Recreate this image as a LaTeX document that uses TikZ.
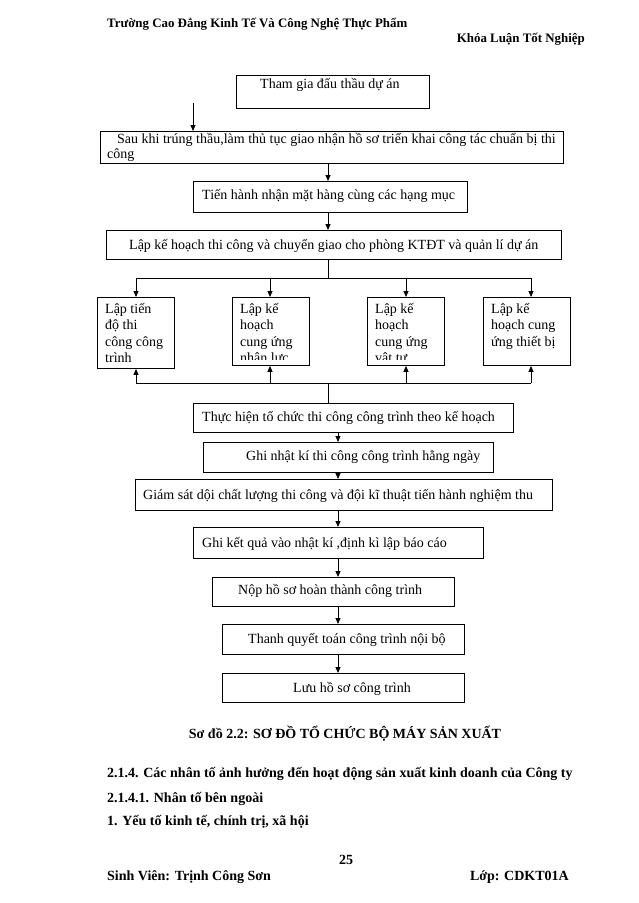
\documentclass[tikz,border=0pt]{standalone}
\usepackage{fontspec}
\setmainfont{Liberation Serif}
\usetikzlibrary{arrows.meta}
\begin{document}
\begin{tikzpicture}[x=1pt,y=-1pt,
  box/.style={draw,line width=0.9pt,inner sep=0pt,anchor=north west},
  txt/.style={inner sep=0pt,anchor=base west,font=\fontsize{14}{16}\selectfont},
  hdr/.style={inner sep=0pt,font=\fontsize{12.9}{15}\selectfont\bfseries},
  bod/.style={inner sep=0pt,anchor=base west,font=\fontsize{14}{16}\selectfont\bfseries},
  ln/.style={line width=0.8pt},
  arr/.style={line width=0.8pt,-{Triangle[length=6pt,width=5pt]}}]
\useasboundingbox (0,0) rectangle (638,903);
\fill[white] (0,0) rectangle (638,903);
% header / footer
\node[hdr,anchor=base west] (h1) at (107,27) {Trường Cao Đẳng Kinh Tế Và Công Nghệ Thực Phẩm};
\node[hdr,anchor=base east] (h2) at (585,42) {Khóa Luận Tốt Nghiệp};
% boxes
\node[box,minimum width=193pt,minimum height=33pt] (b1) at (236,75) {};
\node[box,minimum width=463pt,minimum height=32pt] (b2) at (100,131) {};
\node[box,minimum width=274pt,minimum height=31pt] (b3) at (193,181) {};
\node[box,minimum width=455pt,minimum height=29pt] (b4) at (106,230) {};
\node[box,minimum width=77pt,minimum height=71pt] (bA) at (97,297) {};
\node[box,minimum width=77pt,minimum height=68pt] (bB) at (232,297) {};
\node[box,minimum width=77pt,minimum height=68pt] (bC) at (367,297) {};
\node[box,minimum width=87pt,minimum height=68pt] (bD) at (483,297) {};
\node[box,minimum width=320pt,minimum height=29pt] (b5) at (193,403) {};
\node[box,minimum width=290pt,minimum height=30pt] (b6) at (203,442) {};
\node[box,minimum width=417pt,minimum height=31pt] (b7) at (135,479) {};
\node[box,minimum width=290pt,minimum height=31pt] (b8) at (193,527) {};
\node[box,minimum width=242pt,minimum height=29pt] (b9) at (212,577) {};
\node[box,minimum width=242pt,minimum height=30pt] (b10) at (222,624) {};
\node[box,minimum width=242pt,minimum height=29pt] (b11) at (222,673) {};
% texts
\node[txt] (t1) at (260,88) {Tham gia đấu thầu dự án};
\node[txt] (t2a) at (117,143) {Sau khi trúng thầu,làm thủ tục giao nhận hồ sơ triển khai công tác chuẩn bị thi};
\node[txt] (t2b) at (107,158) {công};
\node[txt] (t3) at (202,199) {Tiến hành nhận mặt hàng cùng các hạng mục};
\node[txt] (t4) at (129,249) {Lập kế hoạch thi công và chuyển giao cho phòng KTĐT và quản lí dự án};
\node[txt] (tA1) at (105,313) {Lập tiến};
\node[txt] (tA2) at (105,329.5) {độ thi};
\node[txt] (tA3) at (105,346) {công công};
\node[txt] (tA4) at (105,362.5) {trình};
\begin{scope}
\clip (232,297) rectangle (309,359);
\node[txt] (tB1) at (240,313) {Lập kế};
\node[txt] (tB2) at (240,329.5) {hoạch};
\node[txt] (tB3) at (240,346) {cung ứng};
\node[txt] (tB4) at (240,362.5) {nhân lực};
\end{scope}
\begin{scope}
\clip (367,297) rectangle (444,359);
\node[txt] (tC1) at (375,313) {Lập kế};
\node[txt] (tC2) at (375,329.5) {hoạch};
\node[txt] (tC3) at (375,346) {cung ứng};
\node[txt] (tC4) at (375,362.5) {vật tư};
\end{scope}
\node[txt] (tD1) at (491,313) {Lập kế};
\node[txt] (tD2) at (491,329.5) {hoạch cung};
\node[txt] (tD3) at (491,346) {ứng thiết bị};
\node[txt] (t5) at (202,421) {Thực hiện tổ chức thi công công trình theo kế hoạch};
\node[txt] (t6) at (246,460) {Ghi nhật kí thi công công trình hằng ngày};
\node[txt] (t7) at (143,499) {Giám sát dội chất lượng thi công và đội kĩ thuật tiến hành nghiệm thu};
\node[txt] (t8) at (202,547) {Ghi kết quả vào nhật kí ,định kì lập báo cáo};
\node[txt] (t9) at (238,594) {Nộp hồ sơ hoàn thành công trình};
\node[txt] (t10) at (248,643) {Thanh quyết toán công trình nội bộ};
\node[txt] (t11) at (293,692) {Lưu hồ sơ công trình};
% connectors
\coordinate (a0) at (193,103);
\coordinate (cx) at (328,0);
\coordinate (dx) at (338,0);
\coordinate (sT) at (328,278);
\coordinate (sB) at (328,383);
\coordinate (xA) at (136,0);
\coordinate (xB) at (270,0);
\coordinate (xC) at (406,0);
\coordinate (xD) at (531,0);
\draw[arr] (a0) -- (a0 |- b2.north);
\draw[arr] (b2.south -| cx) -- (b3.north -| cx);
\draw[arr] (b3.south -| cx) -- (b4.north -| cx);
\draw[ln] (b4.south -| cx) -- (sT);
\draw[ln] (sT -| xA) -- (sT -| xD);
\draw[arr] (sT -| xA) -- (bA.north -| xA);
\draw[arr] (sT -| xB) -- (bB.north -| xB);
\draw[arr] (sT -| xC) -- (bC.north -| xC);
\draw[arr] (sT -| xD) -- (bD.north -| xD);
\draw[ln] (sB -| xA) -- (sB -| xD);
\draw[arr] (sB -| xA) -- (bA.south -| xA);
\draw[arr] (sB -| xB) -- (bB.south -| xB);
\draw[arr] (sB -| xC) -- (bC.south -| xC);
\draw[arr] (sB -| xD) -- (bD.south -| xD);
\draw[ln] (sB) -- (b5.north -| sB);
\draw[arr] (b5.south -| dx) -- (b6.north -| dx);
\draw[arr] (b6.south -| dx) -- (b7.north -| dx);
\draw[arr] (b7.south -| dx) -- (b8.north -| dx);
\draw[arr] (b8.south -| dx) -- (b9.north -| dx);
\draw[arr] (b9.south -| dx) -- (b10.north -| dx);
\draw[arr] (b10.south -| dx) -- (b11.north -| dx);
% caption and body
\node[bod,anchor=base] (cap) at (345,738) {Sơ đồ 2.2: SƠ ĐỒ TỔ CHỨC BỘ MÁY SẢN XUẤT};
\node[bod] (p1) at (107,777) {2.1.4. Các nhân tố ảnh hưởng đến hoạt động sản xuất kinh doanh của Công ty};
\node[bod] (p2) at (107,802) {2.1.4.1. Nhân tố bên ngoài};
\node[bod] (p3) at (107,825) {1. Yếu tố kinh tế, chính trị, xã hội};
\node[bod,anchor=base] (pg) at (346,864) {25};
\node[bod] (f1) at (107,880) {Sinh Viên: Trịnh Công Sơn};
\node[bod,anchor=base east] (f2) at (569,880) {Lớp: CDKT01A};
\end{tikzpicture}
\end{document}
